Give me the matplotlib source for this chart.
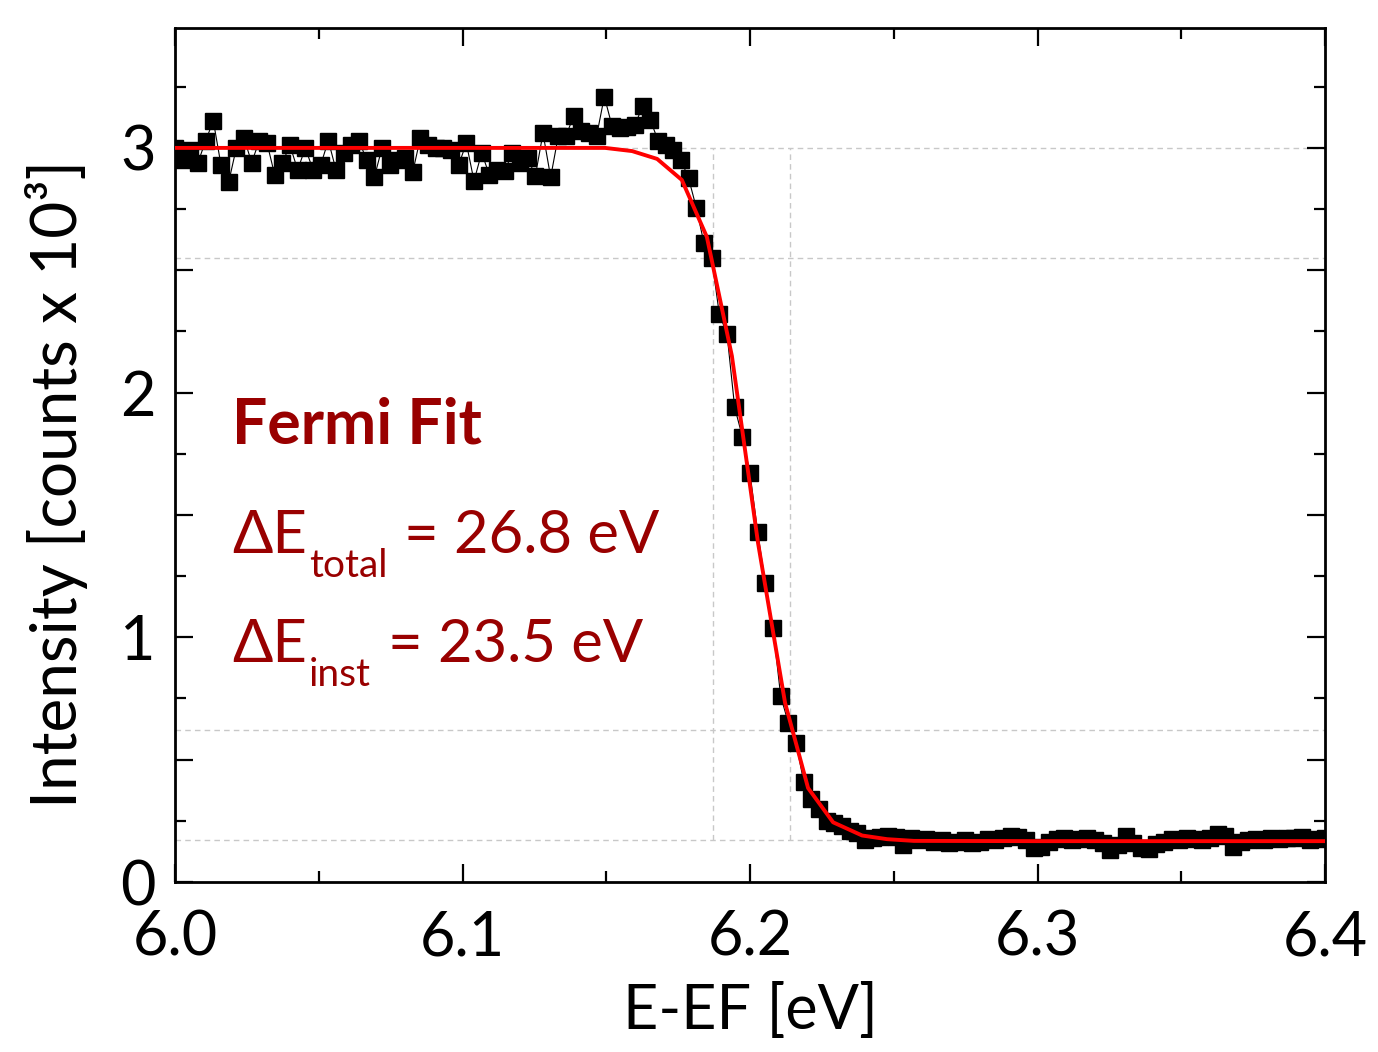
import numpy as np
import matplotlib; matplotlib.use("Agg")
import matplotlib.pyplot as plt
from matplotlib.ticker import MultipleLocator, FuncFormatter
from matplotlib.transforms import offset_copy

plt.rcParams.update({"font.family": ["Lato", "DejaVu Sans"], "font.size": 44})
DARKRED = "#990000"

# measured intensity (x10^3 counts), 151 points on an even grid 6.0 .. 6.4 eV
E = np.linspace(6.0, 6.4, 151)
I = [3.00, 2.95, 2.99, 2.94, 3.03, 3.11, 2.93, 2.86, 3.00, 3.04,
     2.94, 3.03, 3.02, 2.89, 2.94, 3.01, 2.91, 3.00, 2.91, 2.93,
     3.03, 2.91, 2.98, 3.01, 3.03, 2.95, 2.88, 3.00, 2.93, 2.95,
     2.96, 2.90, 3.04, 3.01, 3.00, 3.00, 2.99, 2.93, 3.02, 2.865,
     2.98, 2.89, 2.91, 2.905, 2.98, 2.94, 2.96, 2.885, 3.06, 2.88,
     3.05, 3.05, 3.13, 3.07, 3.06, 3.05, 3.21, 3.09, 3.08, 3.085,
     3.095, 3.17, 3.115, 3.03, 3.01, 2.99, 2.95, 2.875, 2.755, 2.61,
     2.55, 2.32, 2.24, 1.94, 1.82, 1.67, 1.43, 1.22, 1.04, 0.76,
     0.65, 0.57, 0.41, 0.34, 0.30, 0.25, 0.24, 0.23, 0.21, 0.20,
     0.17, 0.18, 0.185, 0.19, 0.185, 0.15, 0.18, 0.17, 0.175, 0.165,
     0.17, 0.16, 0.165, 0.17, 0.16, 0.165, 0.175, 0.17, 0.18, 0.19,
     0.185, 0.17, 0.14, 0.145, 0.165, 0.175, 0.18, 0.17, 0.175, 0.18,
     0.17, 0.16, 0.13, 0.15, 0.19, 0.16, 0.14, 0.135, 0.155, 0.165,
     0.175, 0.17, 0.18, 0.175, 0.17, 0.18, 0.195, 0.19, 0.145, 0.165,
     0.17, 0.175, 0.17, 0.18, 0.175, 0.18, 0.18, 0.185, 0.17, 0.175,
     0.18]

# Fermi fit curve as drawn
FIT_E = [6.000, 6.100, 6.1496, 6.159, 6.1677, 6.1763, 6.185, 6.1937, 6.2028,
         6.2122, 6.2202, 6.2289, 6.239, 6.2477, 6.257, 6.300, 6.400]
FIT_I = [3.000, 3.000, 3.000, 2.987, 2.955, 2.869, 2.636, 2.150, 1.385,
         0.732, 0.384, 0.244, 0.190, 0.175, 0.168, 0.167, 0.167]

# guide lines (16/84 % levels and their energies)
H_LEVELS = [3.0, 2.55, 0.621, 0.171]
V_EDGES = [6.1871, 6.2139]

fig = plt.figure(figsize=(13.78, 10.52), dpi=100)
ax = fig.add_axes([175 / 1378, 1 - 882 / 1052, 1150 / 1378, 854 / 1052])

grid_kw = dict(color="#c8c8c8", lw=1.0, ls=(0, (4, 3)), zorder=1)
for h in H_LEVELS:
    ax.axhline(h, **grid_kw)
for v in V_EDGES:
    ax.plot([v, v], [H_LEVELS[-1], H_LEVELS[0]], **grid_kw)

ax.plot(E, I, color="black", lw=0.8, zorder=3)
ax.plot(E, I, "s", ms=11, color="black", mec="black", zorder=3)
ax.plot(FIT_E, FIT_I, color="#ff0000", lw=2.8, zorder=4)

ax.set_xlim(6.0, 6.4)
ax.set_ylim(0, 3.49)
ax.xaxis.set_major_locator(MultipleLocator(0.1))
ax.xaxis.set_minor_locator(MultipleLocator(0.05))
ax.yaxis.set_major_locator(MultipleLocator(0.5))
ax.yaxis.set_minor_locator(MultipleLocator(0.25))
ax.xaxis.set_major_formatter(FuncFormatter(lambda v, p: f"{v:.1f}"))
ax.yaxis.set_major_formatter(FuncFormatter(
    lambda v, p: f"{int(round(v))}" if abs(v - round(v)) < 1e-6 else ""))
ax.tick_params(which="both", direction="in", top=True, right=True, width=1.6)
ax.tick_params(which="major", length=13, labelsize=44)
ax.tick_params(axis="x", which="major", pad=20)
ax.tick_params(axis="y", which="major", pad=14)
ax.tick_params(which="minor", length=8)
for s in ax.spines.values():
    s.set_linewidth(2.0)

ax.set_xlabel("E-EF [eV]", fontsize=44)
ax.set_ylabel("Intensity [counts x 10³]", fontsize=46)
ax.xaxis.set_label_coords(0.5, -0.118)
ax.yaxis.set_label_coords(-0.076, 0.466)

# annotation block
ax.text(0.0496, 0.514, "Fermi Fit", transform=ax.transAxes, color=DARKRED,
        fontsize=45, fontweight="bold", va="baseline")

renderer = fig.canvas.get_renderer()


def delta_line(y, sub, rest):
    t = ax.text(0.0496, y, "ΔE", transform=ax.transAxes, color=DARKRED,
                fontsize=43, va="baseline")
    w = t.get_window_extent(renderer).width
    tr = offset_copy(ax.transAxes, fig=fig, x=w + 2, y=-24, units="dots")
    s = ax.text(0.0496, y, sub, transform=tr, color=DARKRED, fontsize=28,
                va="baseline")
    ws = s.get_window_extent(renderer).width
    tr2 = offset_copy(ax.transAxes, fig=fig, x=w + 2 + ws + 17, y=0, units="dots")
    ax.text(0.0496, y, rest, transform=tr2, color=DARKRED, fontsize=43,
            va="baseline")


delta_line(0.385, "total", "= 26.8 eV")
delta_line(0.2576, "inst", "= 23.5 eV")

fig.savefig("out.png", dpi=100)
